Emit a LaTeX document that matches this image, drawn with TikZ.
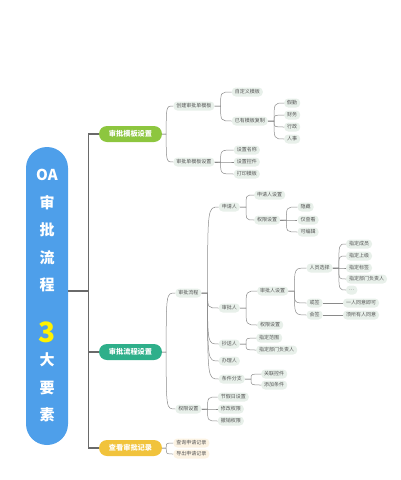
\documentclass[tikz,border=0pt]{standalone}
\usepackage{fontspec}
\setmainfont{Noto Sans CJK SC}
\usetikzlibrary{positioning}

\definecolor{rootblue}{HTML}{4E9FEA}
\definecolor{lime}{HTML}{8DC63F}
\definecolor{flowgreen}{HTML}{2EAF8A}
\definecolor{amber}{HTML}{F1C33C}
\definecolor{three}{HTML}{FFF200}
\definecolor{leafbg}{HTML}{E8F0EA}
\definecolor{notebg}{HTML}{FCF3E3}
\definecolor{leaftext}{HTML}{555555}
\definecolor{trunkgrey}{HTML}{6A6A6A}
\definecolor{linkgrey}{HTML}{8A8A8A}

\begin{document}
\begin{tikzpicture}[x=1pt,y=-1pt,
    core/.style={fill=rootblue, rounded corners=21pt, minimum width=42pt, minimum height=298pt,
      text=white, align=center, font=\bfseries\fontsize{15}{27.5}\selectfont},
    branch/.style={rounded corners=8pt, minimum width=63pt, minimum height=16pt,
      text=white, font=\bfseries\fontsize{7.2}{8}\selectfont},
    leaf/.style={fill=leafbg, rounded corners=4pt, inner xsep=3pt, inner ysep=0pt,
      minimum height=9pt, text=leaftext, font=\fontsize{5}{6}\selectfont},
    note/.style={leaf, fill=notebg},
    trunk/.style={draw=trunkgrey, line width=1.1pt},
    link/.style={draw=linkgrey, line width=0.5pt},
    twig/.style={to path={-- ++(#1,0) coordinate (j) .. controls (j |- \tikztotarget) .. (\tikztotarget.west)}},
    twig/.default=6pt]
    \useasboundingbox (0,0) rectangle (400,480);

    \node[core] (root) at (47,296) {OA\\审\\批\\流\\程\\[24pt]{\fontsize{28}{28}\selectfont\color{three}3}\\[-4pt]大\\要\\素};

    \node[branch, fill=lime] (mb) at (130.5,134) {审批模板设置};
    \node[branch, fill=flowgreen] (lcsz) at (130.5,352) {审批流程设置};
    \node[branch, fill=amber] (jl) at (130.5,448) {查看审批记录};

    % template settings
    \node[leaf] (cj) [right=11pt of mb, yshift=28pt] {创建审批单模板};
    \node[leaf] (mbsz) [right=11pt of mb, yshift=-28pt] {审批单模板设置};
    \node[leaf] (zdy) [right=17pt of cj, yshift=14pt] {自定义模板};
    \node[leaf] (fz) [right=17pt of cj, yshift=-15pt] {已有模板复制};
    \node[leaf] (jq) [right=16pt of fz, yshift=18pt] {假勤};
    \node[leaf] (cw) [right=16pt of fz, yshift=6pt] {财务};
    \node[leaf] (xz) [right=16pt of fz, yshift=-6pt] {行政};
    \node[leaf] (rs) [right=16pt of fz, yshift=-18pt] {人事};
    \node[leaf] (mc) [right=19pt of mbsz, yshift=12pt] {设置名称};
    \node[leaf] (kj) [right=19pt of mbsz] {设置控件};
    \node[leaf] (dy) [right=19pt of mbsz, yshift=-12pt] {打印模板};

    % flow settings
    \node[leaf] (lc) [right=13pt of lcsz, yshift=59pt] {审批流程};
    \node[leaf] (qx) [right=13pt of lcsz, yshift=-57pt] {权限设置};
    \node[leaf] (sqr) [right=17pt of lc, yshift=86pt] {申请人};
    \node[leaf] (spr) [right=17pt of lc, yshift=-15pt] {审批人};
    \node[leaf] (csr) [right=17pt of lc, yshift=-51pt] {抄送人};
    \node[leaf] (blr) [right=17pt of lc, yshift=-68pt] {办理人};
    \node[leaf] (tj) [right=17pt of lc, yshift=-86pt] {条件分支};

    \node[leaf] (sqsz) [right=14pt of sqr, yshift=12pt] {申请人设置};
    \node[leaf] (sqqx) [right=14pt of sqr, yshift=-13pt] {权限设置};
    \node[leaf] (yc) [right=17pt of sqqx, yshift=13pt] {隐藏};
    \node[leaf] (jck) [right=17pt of sqqx] {仅查看};
    \node[leaf] (kbj) [right=17pt of sqqx, yshift=-12pt] {可编辑};

    \node[leaf] (spsz) [right=17pt of spr, yshift=17pt] {审批人设置};
    \node[leaf] (spqx) [right=17pt of spr, yshift=-17pt] {权限设置};
    \node[leaf] (rx) [right=18pt of spsz, yshift=23pt] {人员选择};
    \node[leaf] (hq) [right=18pt of spsz, yshift=-12pt] {或签};
    \node[leaf] (hui) [right=18pt of spsz, yshift=-24pt] {会签};
    \node[leaf] (cy) [right=13pt of rx, yshift=24pt] {指定成员};
    \node[leaf] (sj) [right=13pt of rx, yshift=12pt] {指定上级};
    \node[leaf] (bq) [right=13pt of rx] {指定标签};
    \node[leaf] (fzr) [right=13pt of rx, yshift=-11pt] {指定部门负责人};
    \node[leaf] (dd) [right=13pt of rx, yshift=-22pt] {…};
    \node[leaf] (yr) [right=20pt of hq] {一人同意即可};
    \node[leaf] (sy) [right=20pt of hui] {须所有人同意};

    \node[leaf] (fw) [right=16pt of csr, yshift=6pt] {指定范围};
    \node[leaf] (bm) [right=16pt of csr, yshift=-6pt] {指定部门负责人};
    \node[leaf] (gl) [right=16pt of tj, yshift=5pt] {关联控件};
    \node[leaf] (tjtj) [right=16pt of tj, yshift=-6pt] {添加条件};

    \node[leaf] (jjr) [right=16pt of qx, yshift=12pt] {节假日设置};
    \node[leaf] (xg) [right=16pt of qx] {修改权限};
    \node[leaf] (cx) [right=16pt of qx, yshift=-12pt] {撤销权限};

    % records
    \node[note] (cxjl) [right=11pt of jl, yshift=5pt] {查询申请记录};
    \node[note] (dcjl) [right=11pt of jl, yshift=-6pt] {导出申请记录};

    % trunk
    \draw[trunk] ([yshift=5pt]root.east) -- ++(20pt,0) coordinate (hub);
    \draw[trunk] (hub) |- (mb) (hub) |- (lcsz) (hub) |- (jl);

    \path[link]
      (mb.east) edge[twig=4pt] (cj) edge[twig=4pt] (mbsz)
      (cj.east) edge[twig] (zdy) edge[twig] (fz)
      (fz.east) edge[twig] (jq) edge[twig] (cw) edge[twig] (xz) edge[twig] (rs)
      (mbsz.east) edge[twig] (mc) edge[twig] (kj) edge[twig] (dy)
      (lcsz.east) edge[twig=4pt] (lc) edge[twig=4pt] (qx)
      (lc.east) edge[twig] (sqr) edge[twig] (spr) edge[twig] (csr) edge[twig] (blr) edge[twig] (tj)
      (sqr.east) edge[twig] (sqsz) edge[twig] (sqqx)
      (sqqx.east) edge[twig] (yc) edge[twig] (jck) edge[twig] (kbj)
      (spr.east) edge[twig] (spsz) edge[twig] (spqx)
      (spsz.east) edge[twig] (rx) edge[twig] (hq) edge[twig] (hui)
      (rx.east) edge[twig] (cy) edge[twig] (sj) edge[twig] (bq) edge[twig] (fzr) edge[twig] (dd)
      (hq) edge (yr)
      (hui) edge (sy)
      (csr.east) edge[twig] (fw) edge[twig] (bm)
      (tj.east) edge[twig] (gl) edge[twig] (tjtj)
      (qx.east) edge[twig] (jjr) edge[twig] (xg) edge[twig] (cx)
      (jl.east) edge[twig=4pt] (cxjl) edge[twig=4pt] (dcjl);
\end{tikzpicture}
\end{document}
